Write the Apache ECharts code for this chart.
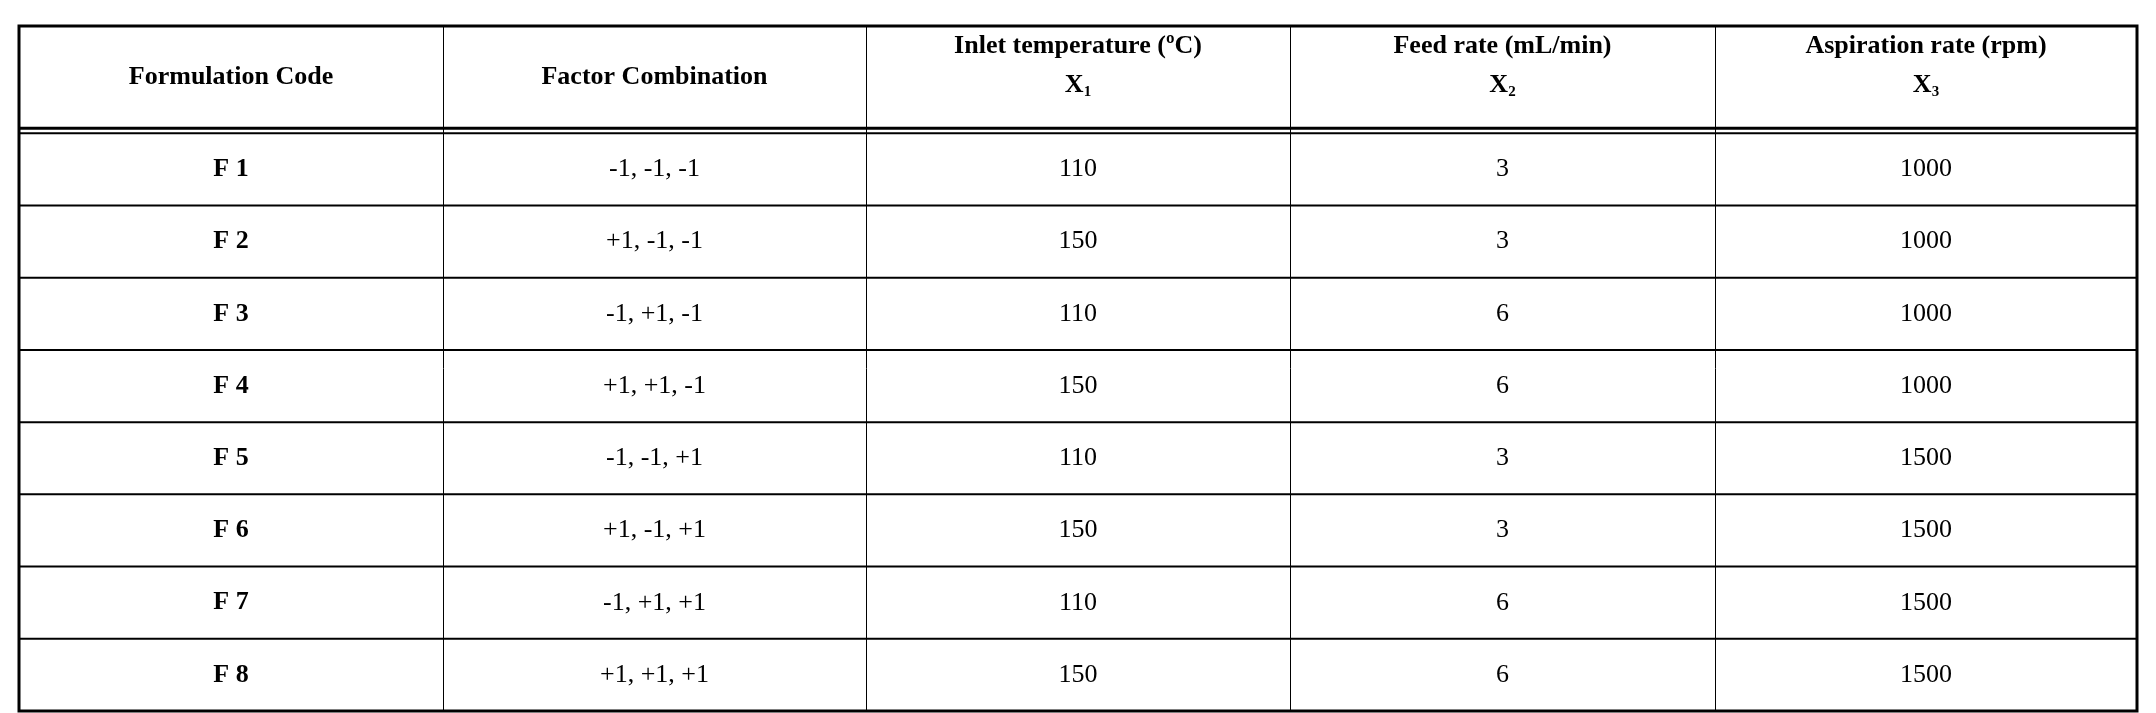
<!DOCTYPE html>
<html>
<head>
<meta charset="utf-8">
<script src="https://cdn.jsdelivr.net/npm/echarts@6/dist/echarts.min.js"></script>
<style>html,body{margin:0;padding:0;background:#fff}#chart{width:2156px;height:713px}</style>
</head>
<body>
<div id="chart"></div>
<script>
// table content
var headers = ['Formulation Code', 'Factor Combination', 'Inlet temperature (ºC)', 'Feed rate (mL/min)', 'Aspiration rate (rpm)'];
var headerVars = ['', '', '1', '2', '3'];
var codes = ['F 1', 'F 2', 'F 3', 'F 4', 'F 5', 'F 6', 'F 7', 'F 8'];
var combos = ['-1, -1, -1', '+1, -1, -1', '-1, +1, -1', '+1, +1, -1', '-1, -1, +1', '+1, -1, +1', '-1, +1, +1', '+1, +1, +1'];
var inletTemp = [110, 150, 110, 150, 110, 150, 110, 150];
var feedRate = [3, 3, 6, 6, 3, 3, 6, 6];
var aspiration = [1000, 1000, 1000, 1000, 1500, 1500, 1500, 1500];
var colEdges = [0, 424, 847, 1271, 1696, 2118];
var headerTop = -107 / 72;

var cells = [];
headers.forEach(function (h, c) { cells.push([c, -1, h, headerVars[c]]); });
codes.forEach(function (code, r) {
    cells.push([0, r, code, 'b']);
    cells.push([1, r, combos[r], '']);
    cells.push([2, r, String(inletTemp[r]), '']);
    cells.push([3, r, String(feedRate[r]), '']);
    cells.push([4, r, String(aspiration[r]), '']);
});

var chart = echarts.init(document.getElementById('chart'));
var font = 'Liberation Serif';
chart.setOption({
    animation: false,
    grid: { left: 19, right: 19, top: 26, bottom: 2 },
    xAxis: { type: 'value', min: 0, max: 2118, show: false },
    yAxis: { type: 'value', min: headerTop, max: 8, inverse: true, show: false },
    series: [{
        type: 'custom',
        data: cells,
        renderItem: function (params, api) {
            var c = api.value(0), r = api.value(1);
            var cx = (colEdges[c] + colEdges[c + 1]) / 2;
            var cell = cells[params.dataIndex];
            if (r < 0) {
                var children = [];
                var top = api.coord([cx, headerTop])[1], bot = api.coord([cx, 0])[1];
                var p = api.coord([cx, 0]);
                if (cell[3]) {
                    children.push({ type: 'text', x: p[0], y: top + 20, style: { text: cell[2], font: 'bold 26px ' + font, fill: '#000', align: 'center', verticalAlign: 'middle' } });
                    children.push({ type: 'text', x: p[0], y: top + 59, style: {
                        text: '{x|X}{s|' + cell[3] + '}', align: 'center', verticalAlign: 'middle',
                        rich: { x: { font: 'bold 26px ' + font, fill: '#000' }, s: { font: 'bold 15px ' + font, fill: '#000', padding: [14, 0, 0, 0] } }
                    } });
                } else {
                    children.push({ type: 'text', x: p[0], y: (top + bot) / 2 - 2, style: { text: cell[2], font: 'bold 26px ' + font, fill: '#000', align: 'center', verticalAlign: 'middle' } });
                }
                return { type: 'group', children: children };
            }
            var q = api.coord([cx, r + 0.5]);
            return { type: 'text', x: q[0], y: q[1], style: { text: cell[2], font: (cell[3] === 'b' ? 'bold ' : '') + '26px ' + font, fill: '#000', align: 'center', verticalAlign: 'middle' } };
        }
    }, {
        // grid lines
        type: 'custom',
        data: [0],
        silent: true,
        renderItem: function (params, api) {
            var ch = [];
            var L = api.coord([0, 0])[0], R = api.coord([2118, 0])[0];
            var T = api.coord([0, headerTop])[1], B = api.coord([0, 8])[1];
            for (var i = 1; i < colEdges.length - 1; i++) {
                var x = Math.round(api.coord([colEdges[i], 0])[0]) + 0.5;
                ch.push({ type: 'line', shape: { x1: x, y1: T, x2: x, y2: B }, style: { stroke: '#000', lineWidth: 1 } });
            }
            for (var r = 1; r < 8; r++) {
                var y = api.coord([0, r])[1];
                ch.push({ type: 'line', shape: { x1: L, y1: y, x2: R, y2: y }, style: { stroke: '#000', lineWidth: 2 } });
            }
            var y0 = api.coord([0, 0])[1];
            ch.push({ type: 'line', shape: { x1: L, y1: y0 - 5, x2: R, y2: y0 - 5 }, style: { stroke: '#000', lineWidth: 3 } });
            ch.push({ type: 'line', shape: { x1: L, y1: y0, x2: R, y2: y0 }, style: { stroke: '#000', lineWidth: 2 } });
            ch.push({ type: 'rect', shape: { x: L, y: T, width: R - L, height: B - T }, style: { fill: 'none', stroke: '#000', lineWidth: 3 } });
            return { type: 'group', children: ch };
        }
    }]
});
</script>
</body>
</html>
